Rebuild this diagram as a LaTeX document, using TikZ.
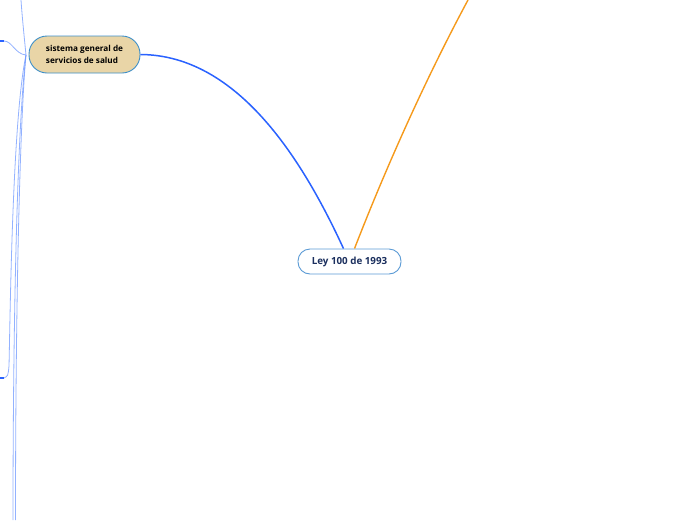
\documentclass[tikz,border=0pt]{standalone}
\usepackage{fontspec}
\setmainfont{Open Sans}
\begin{document}
\begin{tikzpicture}[x=1pt,y=-1pt,
  mainnode/.style={draw=centerborder, line width=0.9pt, fill=white, rounded corners=12pt,
    minimum width=103pt, minimum height=25pt, inner sep=0pt,
    font=\fontsize{9.8}{11}\selectfont\bfseries, text=navytext},
  subnode/.style={draw=subborder, line width=0.9pt, fill=tanfill, rounded corners=18pt,
    minimum width=111pt, minimum height=37pt, inner sep=0pt,
    font=\fontsize{8.2}{11.5}\selectfont\bfseries, text=black, align=left},
  bluelink/.style={draw=linkblue, line width=1.5pt},
  orangelink/.style={draw=linkorange, line width=1.4pt},
  thinlink/.style={draw=thinblue, line width=0.8pt, opacity=0.75},
  stublink/.style={draw=linkblue, line width=1.2pt}
]
\definecolor{centerborder}{HTML}{5B9BD5}
\definecolor{navytext}{HTML}{1B2F5E}
\definecolor{subborder}{HTML}{3D8FC8}
\definecolor{tanfill}{HTML}{E9D5A7}
\definecolor{linkblue}{HTML}{2A62FF}
\definecolor{linkorange}{HTML}{F59A1C}
\definecolor{thinblue}{HTML}{6F98FF}
\useasboundingbox (0,0) rectangle (696,520);

\coordinate (hub) at (26,55);
\coordinate (topend) at (21,0);
\coordinate (leftA) at (4,41);
\coordinate (leftAend) at (0,41);
\coordinate (leftB) at (4,378);
\coordinate (leftBend) at (0,378);
\coordinate (bot1) at (13,520);
\coordinate (bot2) at (15.5,520);
\coordinate (orangeend) at (468,0);

% thin left branches
\draw[thinlink] (hub) .. controls (24,35) and (22,15) .. (topend);
\draw[thinlink] (hub) .. controls (15,54) and (12,41) .. (leftA);
\draw[stublink] (leftA) -- (leftAend);
\draw[thinlink] (hub) .. controls (12,120) and (10,330) .. (9,366) .. controls (8,376) .. (leftB);
\draw[stublink] (leftB) -- (leftBend);
\draw[thinlink] (hub) .. controls (18,120) and (13,300) .. (bot1);
\draw[thinlink] (hub) .. controls (20,120) and (15.5,300) .. (bot2);

\node[mainnode] (main) at (349.5,261.5) {Ley 100 de 1993};
\node[subnode] (sub) at (84.5,54.5) {sistema general de\\servicios de salud};

\draw[bluelink] (sub.east) .. controls (240,55) and (305,165) .. ([xshift=-6pt]main.north);
\draw[orangelink] ([xshift=5pt]main.north) .. controls (385,170) and (425,80) .. (orangeend);
\end{tikzpicture}
\end{document}
